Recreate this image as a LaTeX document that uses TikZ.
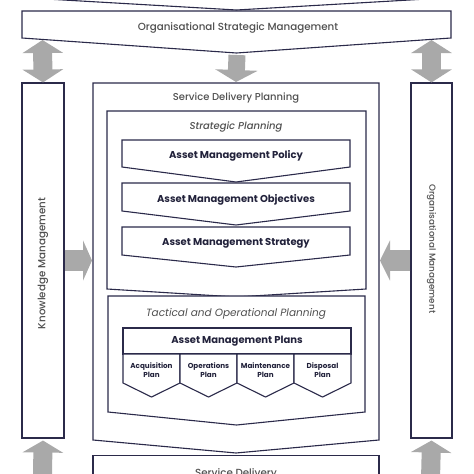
\documentclass[tikz,border=0pt]{standalone}
\usepackage{fontspec}
\setmainfont{Poppins}
\newfontfamily\popmed{Poppins Medium}
\usetikzlibrary{arrows.meta,positioning}

\definecolor{frameblue}{HTML}{2B2A4A}
\definecolor{textgray}{HTML}{505050}
\definecolor{arrowgray}{HTML}{A9A9A9}

% chevron box: left, right, top, side bottom, tip
\newcommand{\chevron}[5]{%
  \draw[frame] (#1,#3) -- (#2,#3) -- (#2,#4) -- ({(#1+#2)/2},#5) -- (#1,#4) -- cycle;}

\begin{document}
\begin{tikzpicture}[x=1pt, y=-1pt,
    frame/.style={draw=frameblue, line width=1.1pt, fill=white},
    title/.style={text=textgray, font=\popmed\fontsize{10.3}{12}\selectfont},
    label/.style={text=frameblue!80!black, font=\fontsize{10}{12}\selectfont\bfseries},
    small/.style={text=frameblue!80!black, font=\fontsize{7.2}{8.4}\selectfont\bfseries, align=center},
    bigarrow/.style={draw=arrowgray, line width=19pt, -{Triangle[width=40pt,length=12pt]}},
    sidearrow/.style={draw=arrowgray, line width=21pt, -{Triangle[width=40pt,length=9pt]}}]

    \useasboundingbox (0,0) rectangle (474,474);
    \clip (0,0) rectangle (474,474);

    % chevrons

    \chevron{22}{451}{-40}{-2.4}{10}
    \chevron{22}{451}{11}{38}{53}
    \node[title] (osm) at (238,28) {Organisational Strategic Management};

    \chevron{93}{379}{83}{440}{453}
    \node[title, font=\popmed\fontsize{10}{12}\selectfont] (sdp) at (236,98) {Service Delivery Planning};

    \chevron{107}{366}{111}{289}{297}
    \node[title, font=\popmed\fontsize{10}{12}\selectfont\itshape] (sp) at (236,127) {Strategic Planning};

    \chevron{122}{350}{140}{167}{182}
    \node[label] (policy) at (236,156) {Asset Management Policy};
    \chevron{122}{350}{183}{211}{225}
    \node[label] (objectives) at (236,200) {Asset Management Objectives};
    \chevron{122}{350}{227}{255}{267}
    \node[label] (strategy) at (236,243) {Asset Management Strategy};

    \chevron{108}{365}{296}{412}{425}
    \node[title, font=\fontsize{10.5}{12}\selectfont\itshape] (top) at (236,314) {Tactical and Operational Planning};

    \node[frame, minimum width=228, minimum height=26, label] (plans) at (237,341) {Asset Management Plans};

    \foreach \x/\name/\txt in {123/acq/Acquisition, 180/ops/Operations, 237/mnt/Maintenance, 294/dsp/Disposal} {
      \chevron{\x}{\x+57}{354}{383}{397}
      \node[small] (\name) at (\x+28.5,370) {\txt\\Plan};
    }

    % side boxes

    \node[frame, rotate=90, minimum width=355, minimum height=42] (km) at (43,260.5) {};
    \node[title, rotate=90] (kmtext) at (43,263.5) {Knowledge Management};
    \node[frame, rotate=-90, minimum width=355, minimum height=41] (om) at (431.5,260.5) {};
    \node[title, rotate=-90, font=\popmed\fontsize{8.8}{10}\selectfont] (omtext) at (431.5,249) {Organisational Management};

    \node[frame, minimum width=286, minimum height=40, anchor=north] (sd) at (236,455) {};
    \node[title] (sdtext) at (236,474) {Service Delivery};

    % arrows

    \coordinate (osmL) at (42.5,40);
    \coordinate (osmR) at (431.5,40);
    \coordinate (osmtip) at (237,55);
    \coordinate (sdptop) at (236,82);
    \coordinate (sdpL) at (92,260.5);
    \coordinate (sdpR) at (380,260.5);
    \coordinate (baseL) at (42.5,480);
    \coordinate (baseR) at (430.5,480);

    \draw[bigarrow, {Triangle[width=40pt,length=13pt]}-{Triangle[width=40pt,length=13pt]}] (km.east) -- (osmL);
    \draw[bigarrow, {Triangle[width=40pt,length=13pt]}-{Triangle[width=40pt,length=13pt]}] (om.west) -- (osmR);
    \draw[bigarrow, line width=17pt, -{Triangle[width=42pt,length=12pt]}] (osmtip) -- (sdptop);
    \draw[sidearrow] (km.south) -- (sdpL);
    \draw[sidearrow, -{Triangle[width=40pt,length=10pt]}] (om.south) -- (sdpR);
    \draw[bigarrow, shorten >=2pt] (baseL) -- (km.west);
    \draw[bigarrow, shorten >=2pt] (baseR) -- (om.east);
  \end{tikzpicture}
\end{document}
